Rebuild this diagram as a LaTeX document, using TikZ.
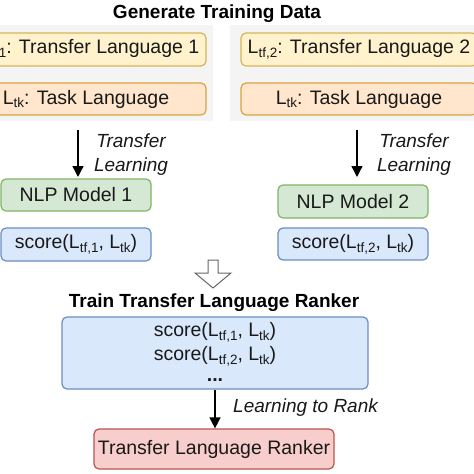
\documentclass[tikz,border=0pt]{standalone}
\usepackage{fontspec}
\setmainfont{Liberation Sans}
\usetikzlibrary{arrows.meta}
\definecolor{yfill}{HTML}{FFF2CC}\definecolor{ydraw}{HTML}{D6B656}
\definecolor{ofill}{HTML}{FFE6CC}\definecolor{odraw}{HTML}{D9A441}
\definecolor{gfill}{HTML}{D5E8D4}\definecolor{gdraw}{HTML}{82B366}
\definecolor{bfill}{HTML}{DAE8FC}\definecolor{bdraw}{HTML}{6C8EBF}
\definecolor{rfill}{HTML}{F8CECC}\definecolor{rdraw}{HTML}{B85450}
\definecolor{panel}{HTML}{F4F4F4}
\newcommand\lsub[1]{\raisebox{-0.35ex}{\fontsize{13.5}{13.5}\selectfont #1}}
\tikzset{
  box/.style={rectangle, rounded corners=5pt, line width=1.2pt, inner sep=0pt,
    font=\fontsize{19.5}{23}\selectfont, text=black!90},
  ybox/.style={box, fill=yfill, draw=ydraw},
  obox/.style={box, fill=ofill, draw=odraw},
  gbox/.style={box, fill=gfill, draw=gdraw},
  bbox/.style={box, fill=bfill, draw=bdraw},
  rbox/.style={box, fill=rfill, draw=rdraw},
  btxt/.style={font=\fontsize{19.5}{23}\selectfont, text=black!90, inner sep=0pt},
  ttl/.style={font=\fontsize{19}{22}\selectfont\bfseries},
  lbl/.style={font=\fontsize{19}{24}\selectfont\itshape, text=black!90, inner sep=0pt},
  arr/.style={line width=1.4pt, -{Triangle[width=11pt,length=11pt]}},
}
\begin{document}
\begin{tikzpicture}[x=1pt,y=-1pt]
\useasboundingbox (0,0) rectangle (474,474);
\clip (0,0) rectangle (474,474);
\fill[white] (0,0) rectangle (474,474);
% panels
\fill[panel] (-40,25) rectangle (213,121);
\fill[panel] (230,25) rectangle (480,121);
\node[ttl] (t1) at (217,14) {Generate Training Data};
\node[ybox, minimum width=236pt, minimum height=33pt] (l1) at (88,49.5) {L\lsub{tf,1}: Transfer Language 1};
\node[obox, minimum width=240pt, minimum height=32pt] (l2) at (86,99) {L\lsub{tk}: Task Language};
\node[ybox, minimum width=236pt, minimum height=33pt] (r1) at (359,49.5) {L\lsub{tf,2}: Transfer Language 2};
\node[obox, minimum width=236pt, minimum height=32pt] (r2) at (359,99) {L\lsub{tk}: Task Language};
% models
\node[gbox, minimum width=150pt, minimum height=32pt] (nlp1) at (76,195) {NLP Model 1};
\node[bbox, minimum width=150pt, minimum height=33pt] (s1) at (76,244.5) {score(L\lsub{tf,1}, L\lsub{tk})};
\node[gbox, minimum width=150pt, minimum height=33pt] (nlp2) at (353,201.5) {NLP Model 2};
\node[bbox, minimum width=150pt, minimum height=32pt] (s2) at (353,244) {score(L\lsub{tf,2}, L\lsub{tk})};
% transfer arrows
\coordinate (a1s) at (78,130); \coordinate (a1e) at (78,177);
\coordinate (a2s) at (357,130); \coordinate (a2e) at (357,177);
\draw[arr] (a1s) -- (a1e);
\draw[arr] (a2s) -- (a2e);
\node[lbl, align=center] (tl1) at (131,155) {Transfer\\Learning};
\node[lbl, align=center] (tl2) at (414,155) {Transfer\\Learning};
% hollow arrow
\draw[line width=1pt, draw=black!60, fill=white] (208,260) -- (218,260) -- (218,273) -- (231,273) -- (213,288) -- (195,273) -- (208,273) -- cycle;
\node[ttl] (t2) at (214,303) {Train Transfer Language Ranker};
\node[bbox, minimum width=306pt, minimum height=72pt] (big) at (215,353) {};
\node[btxt] (bl1) at (215,332) {score(L\lsub{tf,1}, L\lsub{tk})};
\node[btxt] (bl2) at (215,356) {score(L\lsub{tf,2}, L\lsub{tk})};
\node[btxt, font=\fontsize{19.5}{23}\selectfont\bfseries, anchor=base] (bl3) at (215,381) {...};
\node[rbox, minimum width=240pt, minimum height=40pt] (rank) at (214,449) {Transfer Language Ranker};
\draw[arr] (big.south -| 215,0) -- (rank.north -| 215,0);
\node[lbl, anchor=west] (ltr) at (233,408) {Learning to Rank};
\end{tikzpicture}
\end{document}
